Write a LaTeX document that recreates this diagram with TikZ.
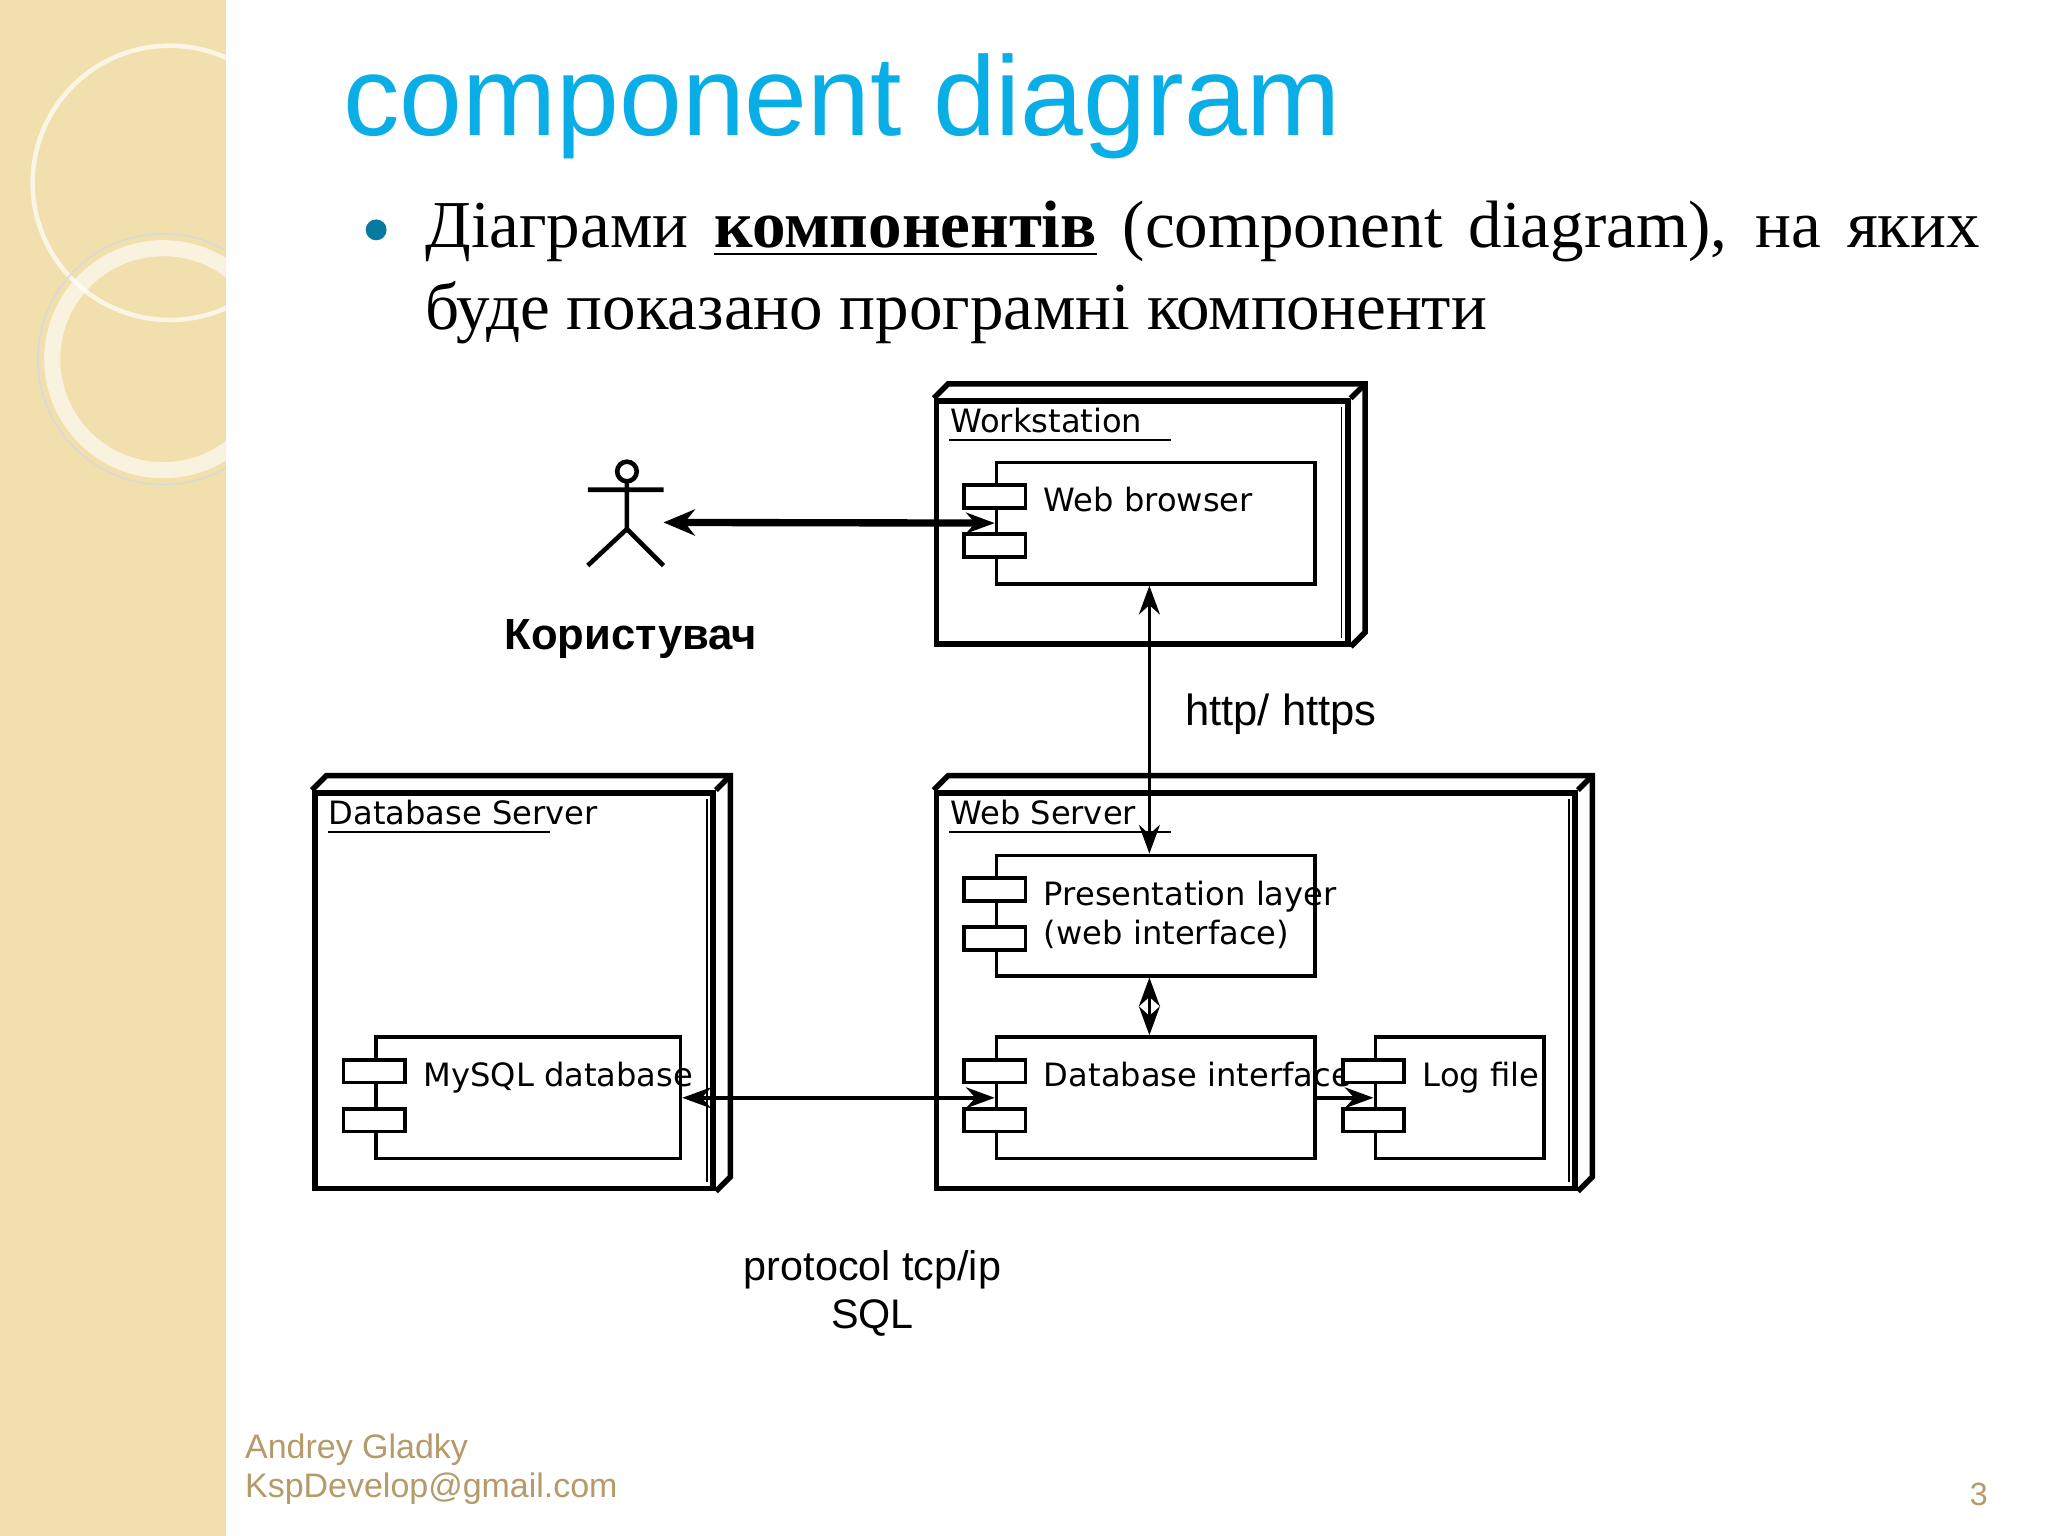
\documentclass[tikz,border=0pt]{standalone}
\usepackage{fontspec}
\setmainfont{Liberation Serif}
\setsansfont{Liberation Sans}
\newfontfamily\umlfont{DejaVu Sans}
\usetikzlibrary{positioning,arrows.meta}
\definecolor{strip}{HTML}{F2DFAE}
\definecolor{titleblue}{HTML}{0AAEE6}
\definecolor{footer}{HTML}{B59A6A}
\tikzset{
  compbox/.style={draw,line width=0.8pt,inner sep=0pt},
  port/.style={draw,fill=white,line width=0.8pt,minimum width=4.7mm,minimum height=1.75mm,inner sep=0pt},
  umltext/.style={font=\umlfont\fontsize{7}{8.5}\selectfont,inner sep=0pt,anchor=base west},
  link/.style={line width=0.8pt,{Stealth[length=2.2mm,width=1.6mm]}-{Stealth[length=2.2mm,width=1.6mm]}},
  bigtext/.style={font=\sffamily\fontsize{9.5}{11}\selectfont,align=center}
}
\newcommand{\hostbox}[6]{% name, cx, cy, w, h, title
  \node[draw,line width=1.2pt,minimum width=#4mm,minimum height=#5mm,inner sep=0pt] (#1) at (#2,#3) {};
  \draw[line width=1.2pt] (#1.north west) -- ++(1.1,-1.1) -| ([shift={(1.1,-1.1)}]#1.south east) -- (#1.south east);
  \draw[line width=1.2pt] (#1.north east) -- ++(1.1,-1.1);
  \draw[line width=0.4pt] ([shift={(-0.7,0.7)}]#1.north east) -- ([shift={(-0.7,-0.7)}]#1.south east);
  \node[umltext] (#1-t) at ([shift={(1.2,2.6)}]#1.north west) {#6};
  \draw[line width=0.4pt] ([shift={(0,0.6)}]#1-t.base west) -- ([shift={(17,0.6)}]#1-t.base west);
}
\newcommand{\compbox}[6]{% name, cx, cy, w, h, text
  \node[compbox,minimum width=#4mm,minimum height=#5mm] (#1) at (#2,#3) {};
  \node[port] (#1-p1) at ([shift={(0,2.75)}]#1.north west) {};
  \node[port] (#1-p2) at ([shift={(0,6.5)}]#1.north west) {};
  \node[umltext,anchor=north west,align=left] (#1-t) at ([shift={(3.7,2.0)}]#1.north west) {#6};
}
\begin{document}
\begin{tikzpicture}[x=1mm,y=-1mm]
\useasboundingbox (0,0) rectangle (156.8,117.6);
% background
\fill[white] (0,0) rectangle (156.8,117.6);
\fill[strip] (0,0) rectangle (17.3,117.6);
\begin{scope}
  \clip (0,0) rectangle (17.3,117.6);
  \draw[white,line width=1pt,opacity=0.7] (13,14) circle (10.5);
  \draw[white,line width=3.5pt,opacity=0.6] (12.5,27.5) circle (8.5);
  \draw[gray!30,line width=0.3pt] (12.5,27.5) circle (9.6);
\end{scope}
% title and text
\node[font=\sffamily\fontsize{24.6}{28}\selectfont,text=titleblue,anchor=base west,inner sep=0pt] (title) at (26.2,10.4) {component diagram};
\fill[titleblue!70!black] (28.8,17.6) circle (0.8);
\node[font=\fontsize{14.6}{18}\selectfont,anchor=north west,inner sep=0pt,text width=119mm,align=justify] (body) at (32.5,15.3)
  {Діаграми \textbf{\underline{компонентів}} (component diagram), на яких буде показано програмні компоненти};
% hosts
\hostbox{ws}{87.45}{40}{31.5}{18.6}{Workstation}
\hostbox{webs}{96.15}{75.85}{48.9}{30.3}{Web Server}
\hostbox{dbs}{39.35}{75.85}{30.5}{30.3}{Database Server}
% components
\compbox{browser}{88.5}{40.05}{24.4}{9.3}{Web browser}
\compbox{pres}{88.5}{70.1}{24.4}{9.2}{Presentation layer\\(web interface)}
\compbox{dbi}{88.5}{84.05}{24.4}{9.3}{Database interface}
\compbox{log}{111.75}{84.05}{12.9}{9.3}{Log file}
\compbox{mysql}{40.45}{84.05}{23.3}{9.3}{MySQL database}
% actor
\begin{scope}[line width=1pt]
  \draw (48,36.1) circle (0.75);
  \coordinate (actor) at (50.8,40);
  \draw (48,36.85) -- (48,40.5) (45,37.5) -- (50.8,37.5)
        (45,43.3) -- (48,40.5) -- (50.8,43.3);
\end{scope}
\node[bigtext,font=\sffamily\bfseries\fontsize{9.5}{11}\selectfont] (user) at (48.3,48.9) {Користувач};
% connectors
\draw[line width=1.6pt,{Stealth[length=2.4mm,width=2mm]}-{Stealth[length=2.2mm,width=1.6mm]}] (actor) -- (browser.west);
\draw[link] ([xshift=-0.5mm]browser.south) -- ([xshift=-0.5mm]pres.north);
\draw[link] ([xshift=-0.5mm]pres.south) -- ([xshift=-0.5mm]dbi.north);
\draw[link] (mysql.east) -- (dbi.west);
\draw[line width=0.8pt,-{Stealth[length=2.2mm,width=1.6mm]}] (dbi.east) -- (log.west);
\node[bigtext,anchor=west] (http) at (89.5,54.7) {http/ https};
\node[bigtext,font=\sffamily\fontsize{9}{10.5}\selectfont] (tcp) at (66.8,99) {protocol tcp/ip\\SQL};
% footer
\node[font=\sffamily\fontsize{7.4}{8.6}\selectfont,text=footer,anchor=north west,align=left,inner sep=0pt] (author) at (18.7,109.7) {Andrey Gladky\\KspDevelop@gmail.com};
\node[font=\sffamily\fontsize{7}{8}\selectfont,text=footer] (page) at (151.5,114.4) {3};
\end{tikzpicture}
\end{document}
